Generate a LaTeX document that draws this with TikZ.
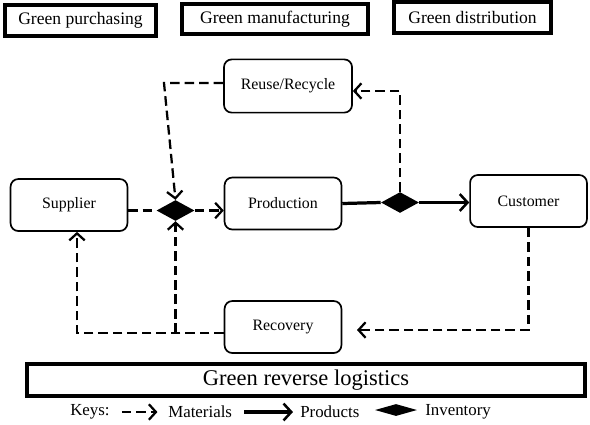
\documentclass[tikz,border=0pt]{standalone}
\usepackage{fontspec}
\setmainfont{Liberation Serif}
\usetikzlibrary{arrows.meta, shapes.geometric}

\tikzset{
  stage/.style={draw, line width=3.2pt, inner sep=0pt, font=\fontsize{12.5}{15}\selectfont},
  unit/.style={draw, rounded corners=5.5pt, line width=1.2pt, minimum width=2.92cm,
    minimum height=1.3cm, inner sep=0pt, font=\fontsize{11.3}{13}\selectfont},
  stock/.style={diamond, fill=black, inner sep=0pt, minimum width=0.95cm, minimum height=0.52cm},
  keytext/.style={anchor=west, inner sep=0pt, font=\fontsize{12}{14}\selectfont},
  material/.style={line width=1.6pt, dash pattern=on 6.8pt off 3.5pt,
    -{Straight Barb[length=5pt,width=11pt,line width=1.6pt]}},
  product/.style={line width=2.3pt, -{Straight Barb[length=5.5pt,width=12pt,line width=1.8pt]}}
}

\begin{document}
\begin{tikzpicture}[x=0.025cm, y=-0.025cm]
    \useasboundingbox (0,0) rectangle (590,424);

    % stages of the chain
    \node[stage, minimum width=3.775cm, minimum height=0.775cm] (purchasing) at (80.5,20.5) {Green purchasing};
    \node[stage, minimum width=4.65cm, minimum height=0.75cm] (manufacturing) at (275,19) {Green manufacturing};
    \node[stage, minimum width=3.925cm, minimum height=0.775cm] (distribution) at (472.5,17.5) {Green distribution};
    \node[stage, minimum width=13.95cm, minimum height=0.8cm, font=\fontsize{16}{19}\selectfont] (reverse) at (306,380) {Green reverse logistics};

    % units
    \node[unit, minimum width=3.2cm, minimum height=1.33cm] (reuse) at (288,86) {Reuse/Recycle};
    \node[unit] (supplier) at (69,205) {Supplier};
    \node[unit] (production) at (283,203.5) {Production};
    \node[unit] (customer) at (528.5,201) {Customer};
    \node[unit] (recovery) at (283,327) {Recovery};

    \node[stock] (d1) at (175.5,210.5) {};
    \node[stock] (d2) at (400,202.5) {};

    \coordinate (rl) at (164,83);
    \coordinate (rr) at (400,91);
    \coordinate (cr) at (357,330);
    \coordinate (sl) at (77,333);

    % forward flow
    \draw[material, -] (d1.west -| supplier.east) -- (d1.west);
    \draw[material] (d1.east) -- (d1.east -| production.west);
    \draw[product, -] (production.east) -- (d2.west);
    \draw[product] (d2.east) -- (d2.east -| customer.west);

    % reverse flow
    \draw[material] (reuse.west |- rl) -- (rl) -- (d1.north);
    \draw[material] (d2.north) |- (reuse.east |- rr);
    \draw[material] (customer.south) |- (cr);
    \draw[material] (recovery.west |- sl) -- (sl) -- (sl |- supplier.south);
    \draw[material] (d1.south |- sl) -- (d1.south);

    % keys
    \node[keytext] (keys) at (70,412) {Keys:};
    \node[keytext] (materials) at (168,412) {Materials};
    \node[keytext] (products) at (300,412) {Products};
    \node[stock, minimum width=1.05cm, minimum height=0.3cm] (keyinv) at (396,410) {};
    \node[keytext] (inventory) at (425,412) {Inventory};

    \draw[material, shorten <=8.5pt, shorten >=7.5pt] (keys.east) -- (materials.west);
    \draw[product, shorten <=8.5pt, shorten >=5pt] (materials.east) -- (products.west);
\end{tikzpicture}
\end{document}
